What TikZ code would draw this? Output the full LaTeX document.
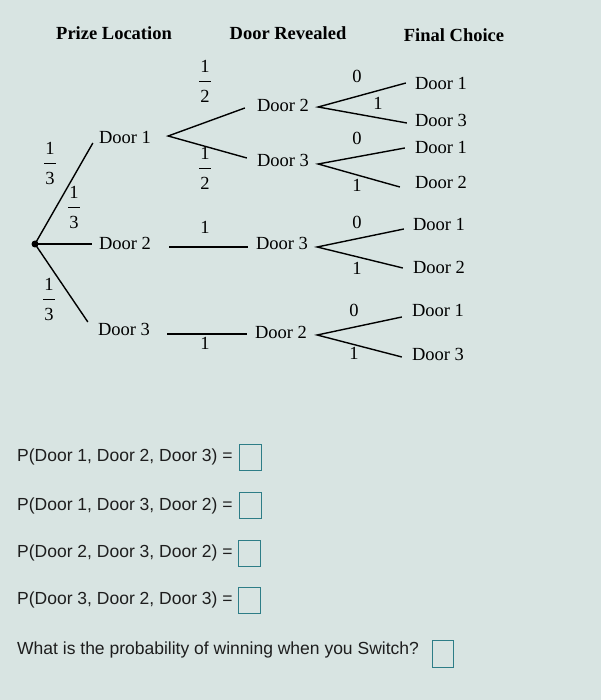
\documentclass[tikz,border=0pt]{standalone}
\usepackage{fontspec}
\usepackage{amsmath}
\setmainfont{Liberation Serif}
\newfontfamily\qfont{Liberation Sans}
\definecolor{bg}{RGB}{216,228,226}
\definecolor{boxc}{RGB}{45,125,135}
\definecolor{qtext}{RGB}{30,30,30}
\tikzset{
  hdr/.style={inner sep=0pt, font=\fontsize{18.5}{20}\selectfont\bfseries},
  door/.style={inner sep=0pt, font=\fontsize{18.5}{20}\selectfont},
  prob/.style={inner sep=0pt, font=\fontsize{18.5}{20}\selectfont},
  fracl/.style={inner sep=0pt, anchor=base, font=\fontsize{18.5}{20}\selectfont},
  br/.style={line width=1.4pt},
  qtxt/.style={inner sep=0pt, anchor=base west, font=\qfont\fontsize{17.5}{19}\selectfont, text=qtext},
  ansbox/.style={draw=boxc, line width=1pt, inner sep=0pt, minimum width=22pt, minimum height=26pt}
}
\newcommand\myfr[2]{$\genfrac{}{}{1.1pt}{0}{\hbox{\kern1pt\rule[-4.9pt]{0pt}{4.9pt}#1\kern1pt}}{\hbox{\kern1pt\rule{0pt}{16.9pt}#2\kern1pt}}$}
\begin{document}
\begin{tikzpicture}[x=1pt,y=-1pt]
\fill[bg] (0,0) rectangle (601,700);
\useasboundingbox (0,0) rectangle (601,700);

% headers
\node[hdr] (h1) at (114,33) {Prize Location};
\node[hdr] (h2) at (288,33) {Door Revealed};
\node[hdr] (h3) at (454,35) {Final Choice};

% root
\node[circle, fill=black, inner sep=0pt, minimum size=7pt] (root) at (35,244) {};

% level 1
\node[door] (a1) at (125,137) {Door 1};
\node[door] (a2) at (125,243) {Door 2};
\node[door] (a3) at (124,329) {Door 3};
\draw[br] (root.center) -- ([xshift=-6pt,yshift=-6pt]a1.west);
\draw[br] (root.center) -- ([xshift=-7pt,yshift=-1pt]a2.west);
\draw[br] (root.center) -- ([xshift=-10pt,yshift=7pt]a3.west);
\node[fracl] (f1) at (50,167.6) {\myfr{1}{3}};
\node[fracl] (f2) at (74,211.6) {\myfr{1}{3}};
\node[fracl] (f3) at (49,303.6) {\myfr{1}{3}};

% level 2
\node[door] (b1) at (283,105) {Door 2};
\node[door] (b2) at (283,160) {Door 3};
\node[door] (b3) at (282,243) {Door 3};
\node[door] (b4) at (281,332) {Door 2};
\draw[br] ([xshift=-12pt,yshift=-3pt]b1.west) -- ([xshift=17pt,yshift=1pt]a1.east) -- ([xshift=-10pt,yshift=2pt]b2.west);
\draw[br] ([xshift=18pt,yshift=-4pt]a2.east) -- ([xshift=-8pt,yshift=-4pt]b3.west);
\draw[br] ([xshift=17pt,yshift=-5pt]a3.east) -- ([xshift=-8pt,yshift=-2pt]b4.west);
\node[fracl] (g1) at (205,85.6) {\myfr{1}{2}};
\node[fracl] (g2) at (205,172.6) {\myfr{1}{2}};
\node[prob] (g3) at (205,227) {1};
\node[prob] (g4) at (205,343) {1};

% level 3
\node[door] (c1) at (441,83) {Door 1};
\node[door] (c2) at (441,120) {Door 3};
\node[door] (c3) at (441,147) {Door 1};
\node[door] (c4) at (441,182) {Door 2};
\node[door] (c5) at (439,224) {Door 1};
\node[door] (c6) at (439,267) {Door 2};
\node[door] (c7) at (438,310) {Door 1};
\node[door] (c8) at (438,354) {Door 3};
\draw[br] ([xshift=-9pt]c1.west) -- ([xshift=9pt,yshift=-2pt]b1.east) -- ([xshift=-8pt,yshift=-3pt]c2.west);
\draw[br] ([xshift=-10pt,yshift=-1pt]c3.west) -- ([xshift=9pt,yshift=-4pt]b2.east) -- ([xshift=-15pt,yshift=-5pt]c4.west);
\draw[br] ([xshift=-9pt,yshift=-5pt]c5.west) -- ([xshift=9pt,yshift=-4pt]b3.east) -- ([xshift=-10pt,yshift=-1pt]c6.west);
\draw[br] ([xshift=-10pt,yshift=-7pt]c7.west) -- ([xshift=10pt,yshift=-3pt]b4.east) -- ([xshift=-10pt,yshift=-3pt]c8.west);
\node[prob] (d1) at (357,76) {0};
\node[prob] (d2) at (378,103) {1};
\node[prob] (d3) at (357,138) {0};
\node[prob] (d4) at (357,185) {1};
\node[prob] (d5) at (357,222) {0};
\node[prob] (d6) at (357,268) {1};
\node[prob] (d7) at (354,310) {0};
\node[prob] (d8) at (354,353) {1};

% questions
\node[qtxt] (q1) at (17,461) {P(Door 1, Door 2, Door 3) =};
\node[ansbox] (k1) at (250,457) {};
\node[qtxt] (q2) at (17,510) {P(Door 1, Door 3, Door 2) =};
\node[ansbox] (k2) at (250,505) {};
\node[qtxt] (q3) at (17,557) {P(Door 2, Door 3, Door 2) =};
\node[ansbox] (k3) at (249,553) {};
\node[qtxt] (q4) at (17,604) {P(Door 3, Door 2, Door 3) =};
\node[ansbox] (k4) at (249,600) {};
\node[qtxt] (q5) at (17,654) {What is the probability of winning when you Switch?};
\node[ansbox, minimum width=21pt, minimum height=27pt] (k5) at (442.5,653.5) {};
\end{tikzpicture}
\end{document}
